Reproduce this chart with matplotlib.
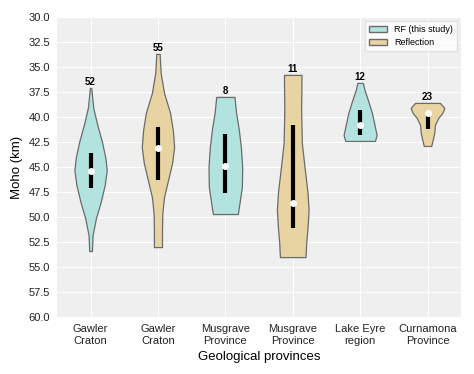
import numpy as np
import matplotlib
matplotlib.use("Agg")
import matplotlib.pyplot as plt
from matplotlib.patches import Patch

plt.rcParams['font.family'] = ['Liberation Sans', 'DejaVu Sans']

# provinces / groups
provinces = ["Gawler\nCraton", "Gawler\nCraton", "Musgrave\nProvince",
             "Musgrave\nProvince", "Lake Eyre\nregion", "Curnamona\nProvince"]
methods = ["RF", "Reflection", "RF", "Reflection", "RF", "Reflection"]
counts = [52, 55, 8, 11, 12, 23]

# violin outlines: depth (km) -> half width (category units)
profile_depth = [
    [37.1, 39.1, 40.8, 42.5, 44.1, 45.3, 46.8, 48.5, 50.1, 51.8, 53.4],
    [33.7, 35.6, 37.6, 39.6, 41.3, 43.0, 44.6, 46.3, 48.0, 49.6, 51.3, 53.0],
    [38.0, 39.6, 41.3, 43.0, 45.0, 47.0, 48.6, 49.7],
    [35.8, 39.3, 42.6, 45.0, 47.6, 49.3, 51.0, 52.6, 54.0],
    [36.6, 37.3, 38.3, 39.6, 41.0, 41.8, 42.4],
    [38.6, 39.1, 39.6, 40.1, 40.8, 41.6, 42.5, 42.9],
]
profile_width = [
    [0.01, 0.04, 0.10, 0.17, 0.22, 0.24, 0.21, 0.15, 0.08, 0.03, 0.02],
    [0.025, 0.04, 0.09, 0.18, 0.22, 0.24, 0.21, 0.15, 0.09, 0.065, 0.06, 0.06],
    [0.135, 0.16, 0.20, 0.23, 0.25, 0.245, 0.21, 0.185],
    [0.13, 0.125, 0.135, 0.175, 0.22, 0.235, 0.22, 0.20, 0.19],
    [0.04, 0.065, 0.115, 0.175, 0.22, 0.245, 0.22],
    [0.185, 0.25, 0.22, 0.16, 0.11, 0.10, 0.07, 0.055],
]

# inner box (quartiles) and median
q1 = [43.6, 41.0, 41.7, 40.8, 39.3, 39.4]
q3 = [47.1, 46.3, 47.6, 51.1, 41.8, 41.2]
medians = [45.4, 43.1, 44.9, 48.6, 40.8, 39.6]

colors = {"RF": "#b3e3de", "Reflection": "#e8d4a2"}
edge = "#6b6b6b"

fig, ax = plt.subplots(figsize=(4.74, 3.74), dpi=100)
fig.subplots_adjust(left=0.120, right=0.973, bottom=0.152, top=0.955)
ax.set_facecolor("#efefef")
ax.grid(True, color="white", linewidth=0.8)
ax.set_axisbelow(True)
for s in ax.spines.values():
    s.set_visible(False)

for i in range(len(provinces)):
    y = np.array(profile_depth[i])
    w = np.array(profile_width[i])
    ax.fill_betweenx(y, i - w, i + w, facecolor=colors[methods[i]],
                     edgecolor=edge, linewidth=0.9, zorder=2)
    ax.plot([i, i], [q1[i], q3[i]], color="black", linewidth=3, solid_capstyle="butt", zorder=3)
    ax.plot(i, medians[i], "o", color="white", markersize=4, zorder=4)
    ax.text(i, y[0] - 0.05, str(counts[i]), ha="center", va="bottom",
            fontsize=7, fontweight="bold", zorder=5)

ax.set_xlim(-0.5, len(provinces) - 0.5)
ax.set_ylim(60, 30)
ax.set_yticks(np.arange(30, 60.1, 2.5))
ax.set_yticklabels([f"{v:.1f}" for v in np.arange(30, 60.1, 2.5)])
ax.set_xticks(range(len(provinces)))
ax.set_xticklabels(provinces)
ax.tick_params(axis="both", length=0, labelsize=8, colors="#222222", pad=5)
ax.set_xlabel("Geological provinces", fontsize=9.5, labelpad=4)
ax.set_ylabel("Moho (km)", fontsize=9.5)

handles = [Patch(facecolor=colors["RF"], edgecolor=edge, label="RF (this study)"),
           Patch(facecolor=colors["Reflection"], edgecolor=edge, label="Reflection")]
leg = ax.legend(handles=handles, loc="upper right", fontsize=6.5, frameon=True,
                facecolor="white", edgecolor="#dddddd", fancybox=False)

fig.savefig("out.png", dpi=100)
